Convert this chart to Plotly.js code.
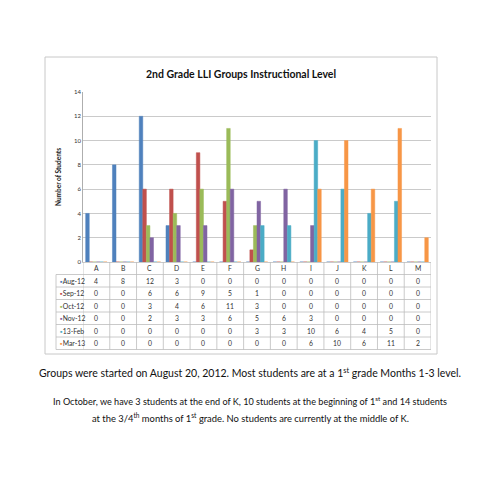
<!DOCTYPE html>
<html>
<head>
<meta charset="utf-8">
<script src="https://cdn.plot.ly/plotly-3.0.1.min.js"></script>
<style>
  html, body { margin: 0; padding: 0; background: #fff; }
  #chart { width: 495px; height: 495px; }
</style>
</head>
<body>
<div id="chart"></div>
<script>
// reading levels A..M
let categories = ['A', 'B', 'C', 'D', 'E', 'F', 'G', 'H', 'I', 'J', 'K', 'L', 'M'];

let aug12 = [4, 8, 12, 3, 0, 0, 0, 0, 0, 0, 0, 0, 0];
let sep12 = [0, 0, 6, 6, 9, 5, 1, 0, 0, 0, 0, 0, 0];
let oct12 = [0, 0, 3, 4, 6, 11, 3, 0, 0, 0, 0, 0, 0];
let nov12 = [0, 0, 2, 3, 3, 6, 5, 6, 3, 0, 0, 0, 0];
let feb13 = [0, 0, 0, 0, 0, 0, 3, 3, 10, 6, 4, 5, 0];
let mar13 = [0, 0, 0, 0, 0, 0, 0, 0, 6, 10, 6, 11, 2];

let seriesNames = ['Aug-12', 'Sep-12', 'Oct-12', 'Nov-12', '13-Feb', 'Mar-13'];
let yTicks = [0, 2, 4, 6, 8, 10, 12, 14];

let series = [aug12, sep12, oct12, nov12, feb13, mar13];
let colors = ['#4F81BD', '#C0504D', '#9BBB59', '#8064A2', '#4BACC6', '#F79646'];

let W = 495;
let px = v => v / W;          // pixel -> paper x
let py = v => 1 - v / W;      // pixel -> paper y

let smallFont = 'Lato, Arial, sans-serif';
let gridCol = '#bdbdbd';

let data = series.map(function (vals, i) {
  return {
    type: 'bar',
    x: categories,
    y: vals,
    name: seriesNames[i],
    marker: { color: colors[i], line: { color: colors[i], width: 0.5 } },
    hoverinfo: 'skip',
    showlegend: false
  };
});

// data table geometry (pixels)
let tableTop = 262;
let rowH = 12.5;
let legendLeft = 56;
let tableRight = 431;

let shapes = [
  // outer chart border
  {
    type: 'rect', xref: 'paper', yref: 'paper',
    x0: px(45), x1: px(437), y0: py(354), y1: py(57),
    line: { color: '#c8c8c8', width: 1 }
  }
];
let annotations = [];
let cellFont = { family: smallFont, size: 6.8, color: '#333' };

// header row: category letters
categories.forEach(function (c) {
  annotations.push({
    xref: 'x', yref: 'paper', x: c, y: py(tableTop + rowH / 2),
    xanchor: 'center', yanchor: 'middle', showarrow: false,
    text: c, font: cellFont
  });
});

// body rows
series.forEach(function (vals, i) {
  let yc = tableTop + rowH * (i + 1.5);
  annotations.push({
    xref: 'paper', yref: 'paper', x: px(legendLeft + 1.5), y: py(yc),
    xanchor: 'left', yanchor: 'middle', showarrow: false,
    text: '<span style="color:' + colors[i] + '">▪</span>' + seriesNames[i],
    font: cellFont
  });
  vals.forEach(function (v, j) {
    annotations.push({
      xref: 'x', yref: 'paper', x: categories[j], y: py(yc),
      xanchor: 'center', yanchor: 'middle', showarrow: false,
      text: String(v), font: cellFont
    });
  });
});

// horizontal table lines
for (let r = 1; r <= series.length + 1; r++) {
  let yy = py(tableTop + rowH * r);
  shapes.push({
    type: 'line', xref: 'paper', yref: 'paper',
    x0: px(legendLeft), x1: px(tableRight), y0: yy, y1: yy,
    line: { color: gridCol, width: 0.8 }
  });
}
// vertical table lines at category boundaries
for (let k = 0; k <= categories.length; k++) {
  shapes.push({
    type: 'line', xref: 'x', yref: 'paper',
    x0: k - 0.5, x1: k - 0.5,
    y0: py(tableTop), y1: py(tableTop + rowH * (series.length + 1)),
    line: { color: gridCol, width: 0.8 }
  });
}
// left edge of the legend column
shapes.push({
  type: 'line', xref: 'paper', yref: 'paper',
  x0: px(legendLeft), x1: px(legendLeft),
  y0: py(tableTop + rowH), y1: py(tableTop + rowH * (series.length + 1)),
  line: { color: gridCol, width: 0.8 }
});

// notes under the chart: [text, y pixel, font size]
let notes = [
  ['Groups were started on August 20, 2012. Most students are at a 1<sup>st</sup> grade Months 1-3 level.', 372, 10.5],
  ['In October, we have 3 students at the end of K, 10 students at the beginning of 1<sup>st</sup> and 14 students', 401, 9.1],
  ['at the 3/4<sup>th</sup> months of 1<sup>st</sup> grade. No students are currently at the middle of K.', 418, 9.4]
];
notes.forEach(function (n) {
  annotations.push({
    xref: 'paper', yref: 'paper', x: px(250), y: py(n[1]),
    xanchor: 'center', yanchor: 'middle', showarrow: false,
    text: n[0], font: { family: 'Lato, sans-serif', size: n[2], color: '#111' }
  });
});

let layout = {
  width: 495,
  height: 495,
  margin: { l: 0, r: 0, t: 0, b: 0 },
  paper_bgcolor: '#ffffff',
  plot_bgcolor: '#ffffff',
  barmode: 'group',
  bargap: 0.2,
  bargroupgap: 0,
  title: {
    text: '<b>2nd Grade LLI Groups Instructional Level</b>',
    x: px(241), xanchor: 'center',
    y: py(74), yanchor: 'middle',
    font: { family: 'Lato, Open Sans, sans-serif', size: 10.5, color: '#111' }
  },
  xaxis: {
    domain: [px(83), px(tableRight)],
    range: [-0.5, categories.length - 0.5],
    showticklabels: false,
    showgrid: false,
    zeroline: false,
    showline: true,
    linecolor: gridCol,
    linewidth: 0.8,
    fixedrange: true
  },
  yaxis: {
    domain: [py(tableTop), py(92)],
    range: [0, 14],
    tickvals: yTicks,
    ticktext: yTicks.map(String),
    tickfont: { family: smallFont, size: 6, color: '#333' },
    ticks: '',
    showgrid: true,
    gridcolor: gridCol,
    gridwidth: 0.8,
    showline: true,
    linecolor: '#9a9a9a',
    linewidth: 0.8,
    zeroline: false,
    fixedrange: true,
    title: {
      text: '<b>Number of Students</b>',
      font: { family: smallFont, size: 6.5, color: '#222' },
      standoff: 11
    }
  },
  shapes: shapes,
  annotations: annotations
};

Plotly.newPlot('chart', data, layout, { displayModeBar: false, staticPlot: true });
</script>
</body>
</html>
